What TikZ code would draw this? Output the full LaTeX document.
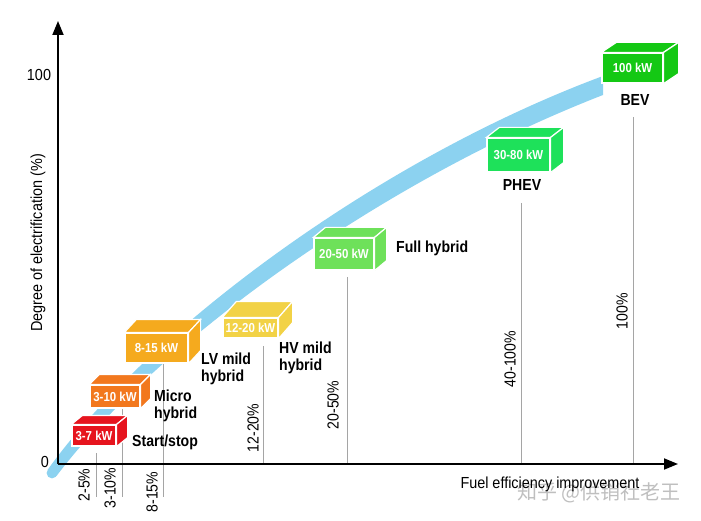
\documentclass[tikz,border=0pt]{standalone}
\usepackage{fontspec}
\setmainfont{Liberation Sans}
\newfontfamily\nb[FakeStretch=0.88]{Liberation Sans}
\newfontfamily\nbx[FakeStretch=0.9]{Liberation Sans}
\newfontfamily\cjk{Noto Sans CJK SC}
\usetikzlibrary{arrows.meta}
\definecolor{bandblue}{RGB}{140,210,240}
\definecolor{cA}{RGB}{230,20,30}
\definecolor{cB}{RGB}{242,120,30}
\definecolor{cC}{RGB}{245,170,30}
\definecolor{cD}{RGB}{242,210,70}
\definecolor{cE}{RGB}{110,225,90}
\definecolor{cF}{RGB}{30,225,90}
\definecolor{cG}{RGB}{20,200,20}
\definecolor{tickgray}{RGB}{165,165,165}
\newcommand\cubefaces[4]{%
  \fill[#4, draw=white, line width=1.2pt, line join=miter]
    (#1.north west) -- ++(#2,#3) -- ([shift={(#2,#3)}]#1.north east) -- (#1.north east) -- cycle;
  \fill[#4, draw=white, line width=1.2pt, line join=miter]
    (#1.north east) -- ++(#2,#3) -- ([shift={(#2,#3)}]#1.south east) -- (#1.south east) -- cycle;
}
\begin{document}
\begin{tikzpicture}[x=1pt,y=-1pt,
  kwbox/.style={draw=white, line width=1.2pt, inner sep=0pt, text=white,
    font=\nb\bfseries\fontsize{13}{13}\selectfont},
  lbl/.style={font=\nb\bfseries\fontsize{16}{17}\selectfont, align=left, inner sep=0pt},
  pct/.style={font=\nb\fontsize{16}{16}\selectfont, rotate=90, inner sep=0pt},
  axislbl/.style={font=\nbx\fontsize{16}{16}\selectfont, inner sep=0pt},
  tickline/.style={draw=tickgray, line width=1pt},
  axisline/.style={draw=black, line width=1.8pt, -{Triangle[length=14pt,width=11pt]}}
]
\useasboundingbox (0,0) rectangle (701,521);
% electrification band (widening)
\fill[bandblue] (47.5,470) .. controls (144,335) and (373,161.5) .. (603,76)
  -- (603,95) .. controls (380,181.5) and (156,344.5) .. (56.5,476) -- cycle;
\fill[bandblue] (52,473) circle[radius=5.4];
% tick lines
\draw[tickline] (96,453) -- (96,497);
\draw[tickline] (122,408) -- (122,497);
\draw[tickline] (163,363) -- (163,497);
\draw[tickline] (263,346) -- (263,464);
\draw[tickline] (347,277) -- (347,464);
\draw[tickline] (521,203) -- (521,464);
\draw[tickline] (633,117) -- (633,464);
% axes
\coordinate (o) at (58,464);
\coordinate (ytip) at (58,21);
\coordinate (xtip) at (678,464);
\draw[axisline] (o) -- (ytip);
\draw[axisline] (o) -- (xtip);
\node[axislbl, anchor=center] (zero) at (45,462) {0};
\node[axislbl, anchor=center] (hundred) at (39,75) {100};
\node[axislbl, rotate=90] (ylab) at (38,243) {Degree of electrification (\%)};
% watermark
\node[font=\cjk\fontsize{20}{20}\selectfont, text=black!25, inner sep=0pt] (wm) at (599,493) {知乎 @供销社老王};
\node[axislbl] (xlab) at (550,484) {Fuel efficiency improvement};
% boxes
\node[kwbox, fill=cA, minimum width=44pt, minimum height=21pt] (b1) at (94,435.5) {3-7 kW};
\cubefaces{b1}{11}{-9}{cA}
\node[kwbox, fill=cB, minimum width=50pt, minimum height=23pt] (b2) at (115,396.5) {3-10 kW};
\cubefaces{b2}{10}{-10}{cB}
\node[kwbox, fill=cC, minimum width=63pt, minimum height=30pt] (b3) at (156.5,348) {8-15 kW};
\cubefaces{b3}{12}{-13}{cC}
\node[kwbox, fill=cD, minimum width=55pt, minimum height=20pt] (b4) at (250.5,328) {12-20 kW};
\cubefaces{b4}{14}{-16}{cD}
\node[kwbox, fill=cE, minimum width=60pt, minimum height=32pt] (b5) at (344,254) {20-50 kW};
\cubefaces{b5}{12}{-10}{cE}
\node[kwbox, fill=cF, minimum width=63pt, minimum height=34pt] (b6) at (518.5,155) {30-80 kW};
\cubefaces{b6}{13}{-10}{cF}
\node[kwbox, fill=cG, minimum width=61pt, minimum height=30pt] (b7) at (632.5,68) {100 kW};
\cubefaces{b7}{15}{-10}{cG}
% labels
\node[lbl, anchor=west] (l1) at (132,442) {Start/stop};
\node[lbl, anchor=west] (l2) at (154,405.5) {Micro\\hybrid};
\node[lbl, anchor=west] (l3) at (201,368.5) {LV mild\\hybrid};
\node[lbl, anchor=west] (l4) at (279,358) {HV mild\\hybrid};
\node[lbl, anchor=west] (l5) at (396,248) {Full hybrid};
\node[lbl, anchor=center] (l6) at (522,185) {PHEV};
\node[lbl, anchor=center] (l7) at (635,100) {BEV};
% percentages
\node[pct] (p1) at (84,485) {2-5\%};
\node[pct] (p2) at (110,488) {3-10\%};
\node[pct] (p3) at (152,492) {8-15\%};
\node[pct] (p4) at (253,428) {12-20\%};
\node[pct] (p5) at (333,405) {20-50\%};
\node[pct] (p6) at (510,359) {40-100\%};
\node[pct] (p7) at (622,311) {100\%};
\end{tikzpicture}
\end{document}
